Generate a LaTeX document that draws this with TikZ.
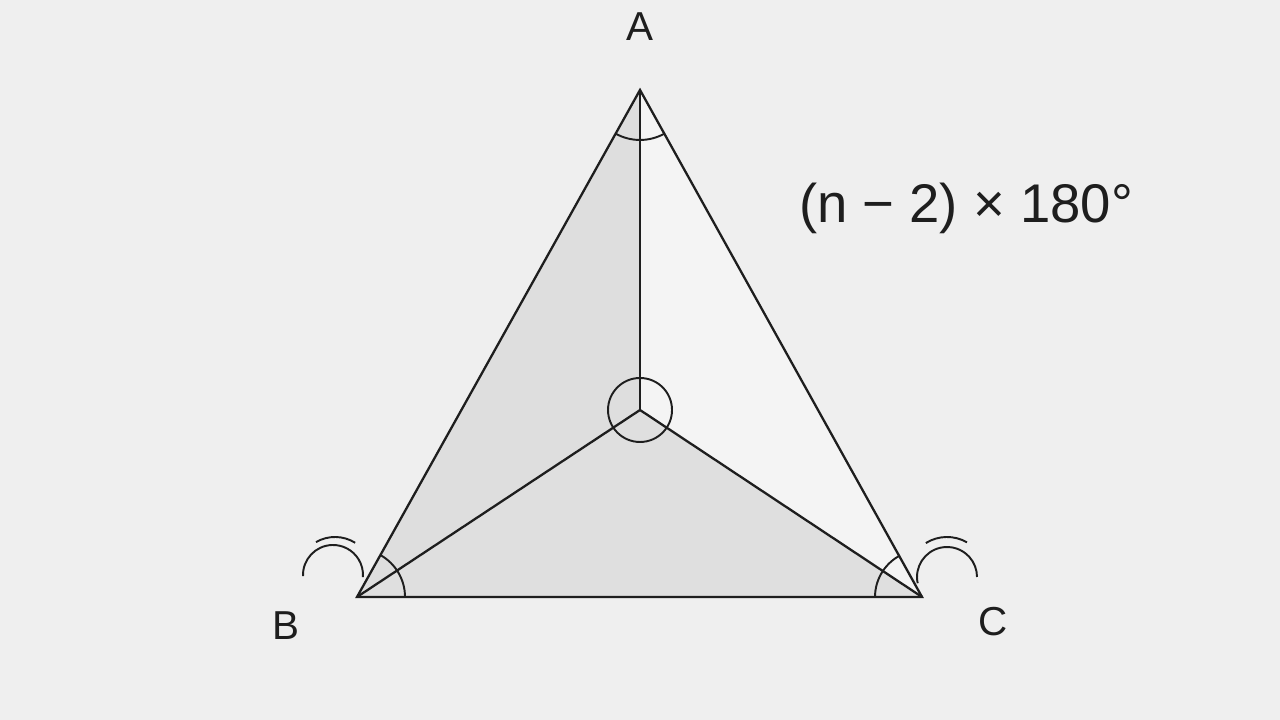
\documentclass[tikz,border=0pt]{standalone}
\usepackage{fontspec}
\setmainfont{Liberation Sans}
\usetikzlibrary{calc}
\definecolor{bgcol}{RGB}{239,239,239}
\definecolor{leftgray}{RGB}{222,222,222}
\definecolor{rightgray}{RGB}{244,244,244}
\definecolor{bottomgray}{RGB}{223,223,223}
\definecolor{inkcol}{RGB}{30,30,30}
\def\angarc[#1](#2)(#3:#4:#5){\draw[#1] (#2) ++(#3:#5) arc (#3:#4:#5);}
\tikzset{
	edge/.style={draw=inkcol, line width=0.65pt},
	anglemark/.style={draw=inkcol, line width=0.55pt},
	vertexlabel/.style={inner sep=0pt, font=\fontsize{11.5}{14}\selectfont, text=inkcol},
}

\begin{document}
\begin{tikzpicture}
		%%%%% START %%%%%
		\fill[bgcol] (0, 0) rectangle (12.8, 7.2);
		\useasboundingbox (0, 0) rectangle (12.8, 7.2);
		
		\coordinate (A) at (6.40, 6.30);
		\coordinate (B) at (3.57, 1.23);
		\coordinate (C) at (9.22, 1.23);
		\coordinate (O) at (6.40, 3.10);
		
		\fill[leftgray] (A) -- (B) -- (O) -- cycle;
		\fill[rightgray] (A) -- (O) -- (C) -- cycle;
		\fill[bottomgray] (B) -- (C) -- (O) -- cycle;
		
		\draw[edge] (A) -- (B) -- (C) -- cycle;
		\draw[edge] (O) -- (A);
		\draw[edge] (O) -- (B);
		\draw[edge] (O) -- (C);
		
		\angarc[anglemark](A)(240.8:299.1:0.50)
		\angarc[anglemark](B)(0:60.8:0.48)
		\angarc[anglemark](C)(119.1:180:0.47)
		\draw[anglemark] (O) circle (0.32);
		
		\angarc[anglemark](3.33, 1.45)(182:-4:0.30)
		\angarc[anglemark](3.35, 1.45)(120:58:0.38)
		\angarc[anglemark](9.47, 1.43)(192:0:0.30)
		\angarc[anglemark](9.47, 1.43)(122:60:0.40)
		
		\node[vertexlabel] (labelA) at (6.40, 6.93) {A};
		\node[vertexlabel] (labelB) at (2.86, 0.94) {B};
		\node[vertexlabel] (labelC) at (9.93, 0.98) {C};
		
		\node[inner sep=0pt, font=\fontsize{15.5}{19}\selectfont, text=inkcol] (formula) at (9.66, 5.12) {(n − 2) × 180°};
		%%%%% END %%%%%
	\end{tikzpicture}
\end{document}
